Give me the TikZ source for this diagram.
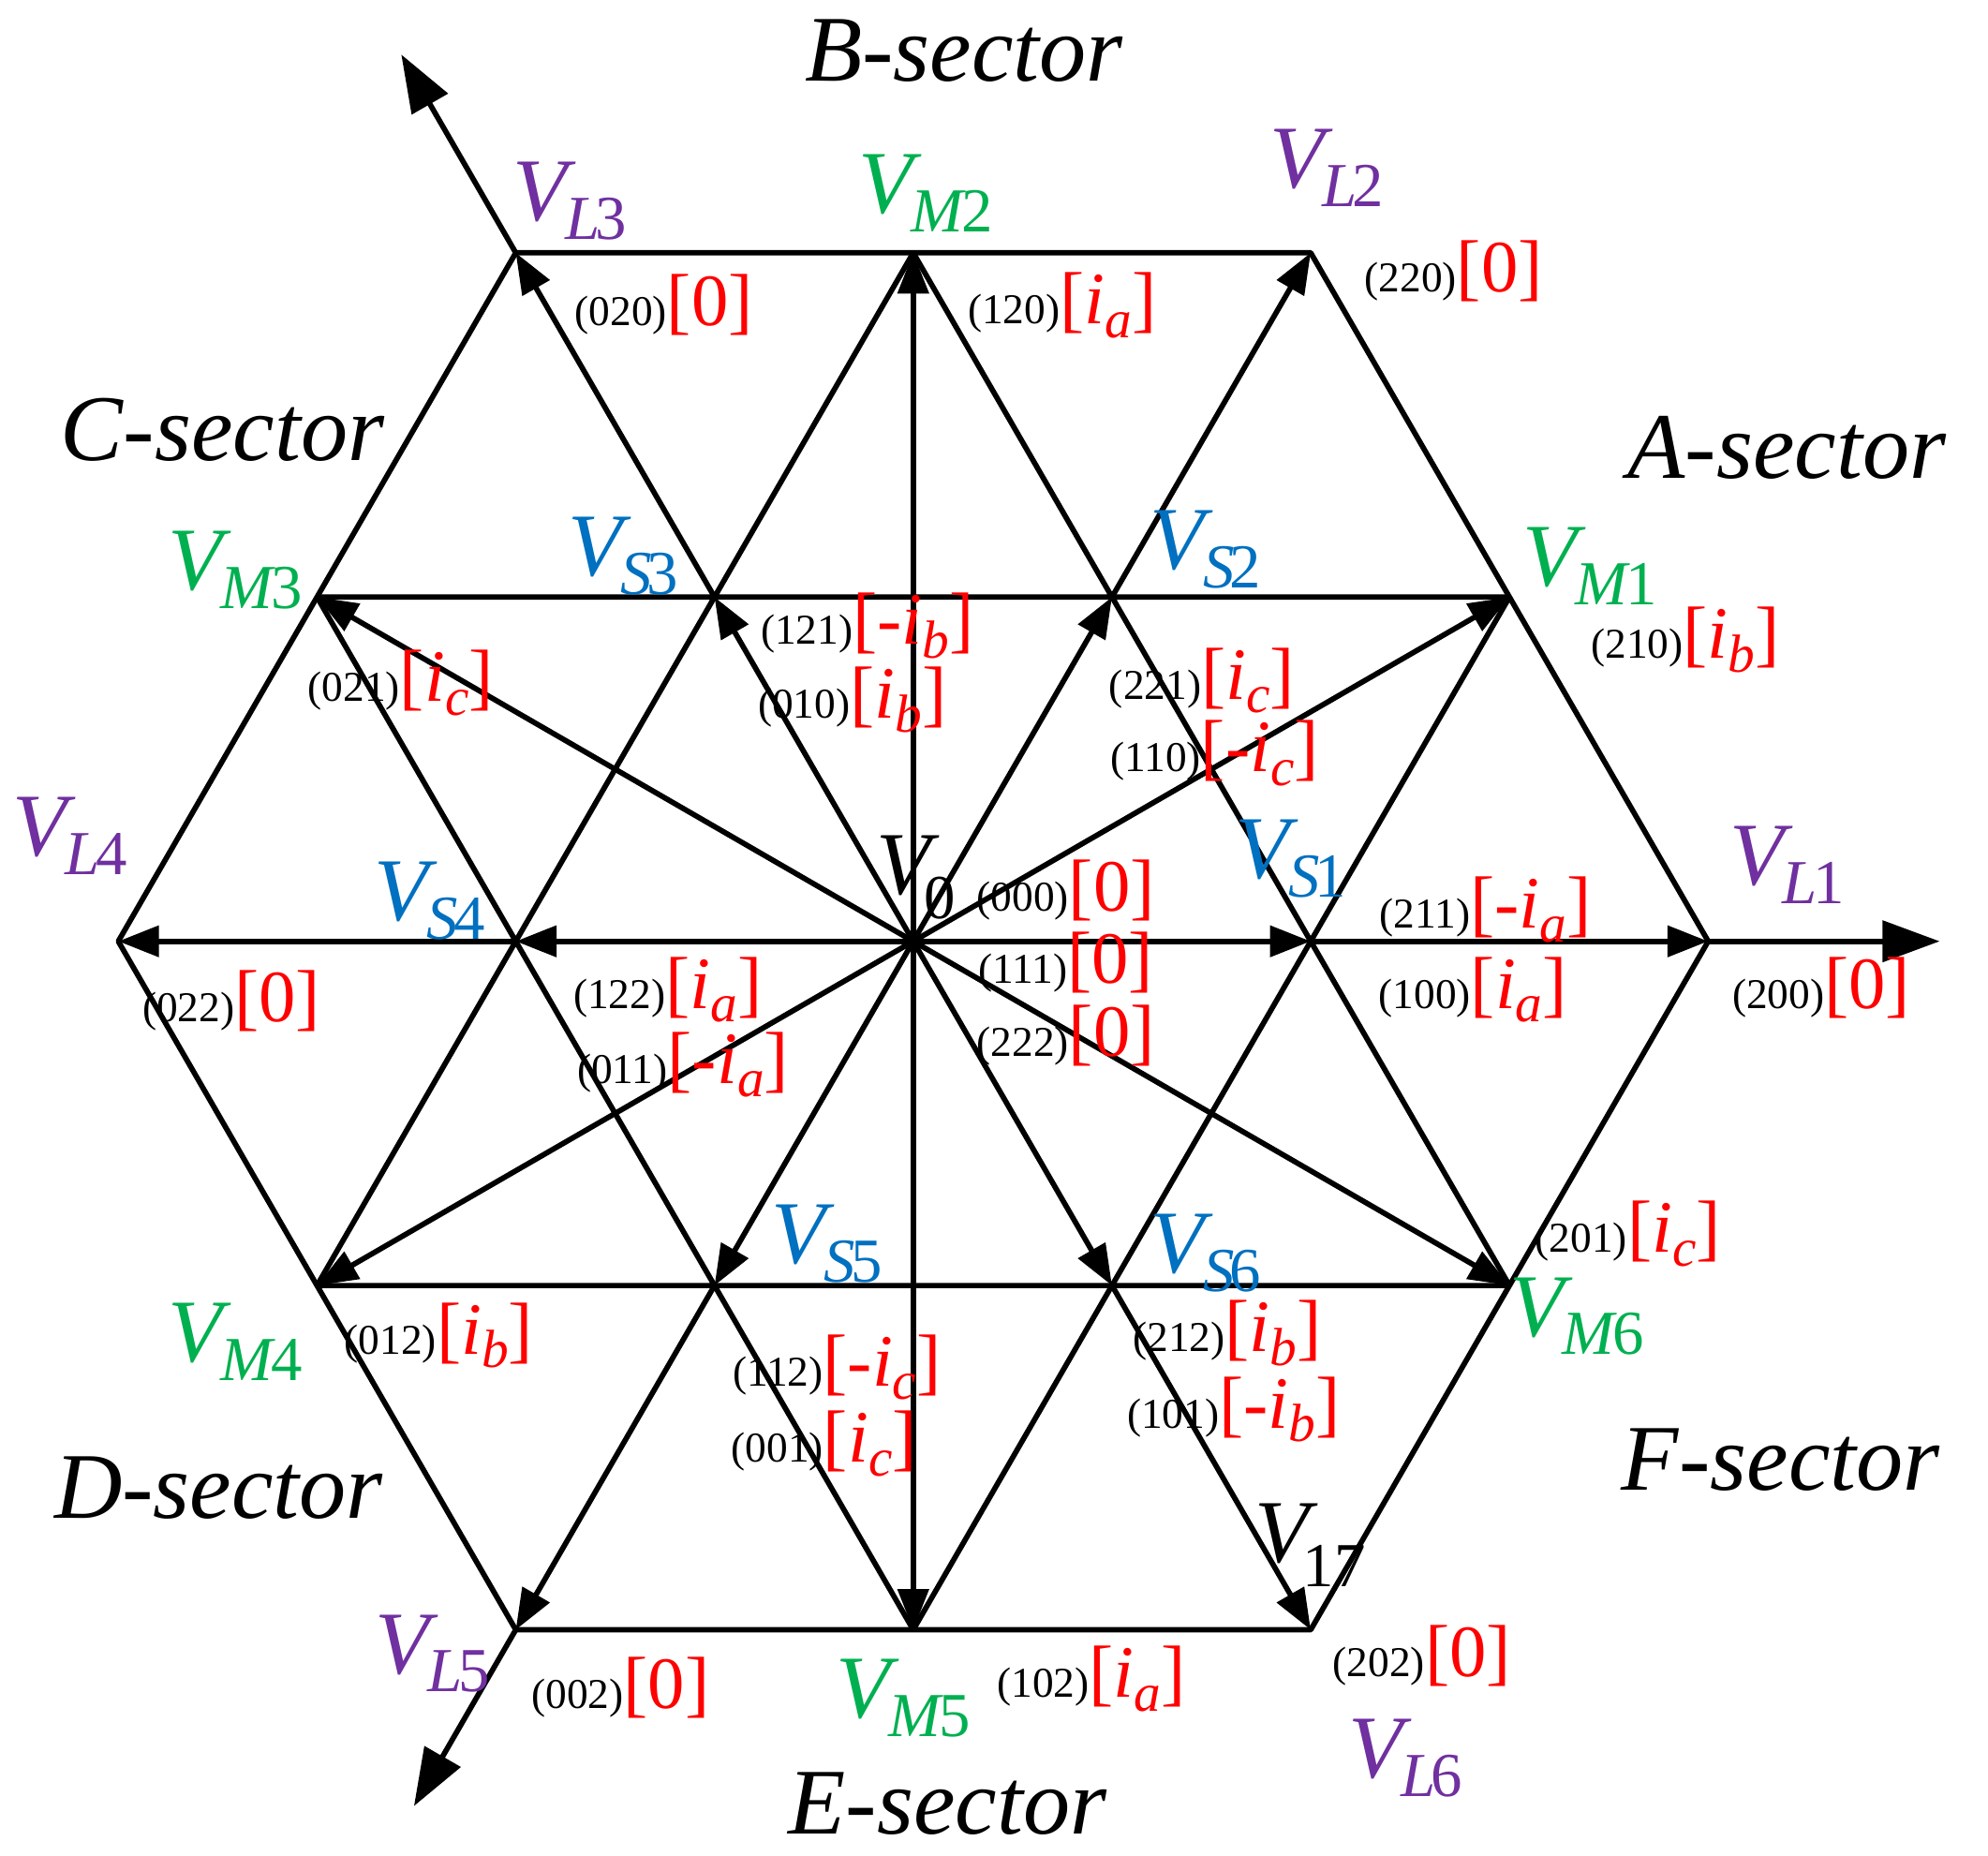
\documentclass[tikz,border=0pt]{standalone}
\usepackage{fontspec}
\setmainfont{Liberation Serif}
\usetikzlibrary{arrows.meta,calc}
\definecolor{cR}{RGB}{255,0,0}
\definecolor{cG}{RGB}{0,176,80}
\definecolor{cB}{RGB}{0,112,192}
\definecolor{cP}{RGB}{112,48,160}
\newcommand\vlab[2]{\fontsize{20}{21}\selectfont\textit{V}\kern-0.12em\raisebox{-0.45ex}{\fontsize{14}{15}\selectfont\textit{#2}}}
\newcommand\cd[2]{{\fontsize{9.5}{10}\selectfont(#1)}{\color{cR}\fontsize{16.5}{17}\selectfont[#2]}}
\newcommand\ii[1]{\textit{i}\raisebox{-0.4ex}{\fontsize{12}{13}\selectfont\textit{#1}}}
\begin{document}
\begin{tikzpicture}[x=0.01cm,y=-0.01cm,
  ln/.style={line width=1.2pt,line join=round},
  tip/.style={-{Triangle[length=0.32cm,width=0.24cm]}},
  bigtip/.style={-{Triangle[length=0.45cm,width=0.32cm]}},
  sect/.style={font=\fontsize{21}{22}\selectfont\itshape},
  lab/.style={inner sep=0pt}]
\useasboundingbox (0,0) rectangle (1563,1459);
\coordinate (O) at (718,740);
\foreach \k in {1,...,6}{
  \coordinate (L\k) at ($(O)+({-(\k-1)*60}:625)$);
  \coordinate (S\k) at ($(O)+({-(\k-1)*60}:312.5)$);
  \coordinate (M\k) at ($(O)+({-30-(\k-1)*60}:541.27)$);
}
\coordinate (X) at (1525,740);
\coordinate (A3) at ($(O)+(-120:805)$);
\coordinate (A5) at ($(O)+(120:785)$);
% hexagon
\draw[ln] (L1)--(L2)--(L3)--(L4)--(L5)--(L6)--cycle;
% lattice
\draw[ln] (M1)--(M3) (M4)--(M6) (M2)--(M4) (M2)--(M6) (M1)--(M5) (M3)--(M5);
% axes
\draw[ln,bigtip] (L1)--(X);
\draw[ln,bigtip] (L3)--(A3);
\draw[ln,bigtip] (L5)--(A5);
% radial vectors
\foreach \k in {1,...,6}{
  \draw[ln,tip] (O)--(S\k);
  \draw[ln,tip] (S\k)--(L\k);
  \draw[ln,tip] (O)--(M\k);
}
% sectors
\node[sect] at (758,40) {B-sector};
\node[sect] at (1405,352) {A-sector};
\node[sect] at (175,338) {C-sector};
\node[sect] at (172,1170) {D-sector};
\node[sect] at (745,1418) {E-sector};
\node[sect] at (1400,1148) {F-sector};
% V labels
\node[lab,cP] at (448,158) {\vlab{V}{L}\kern-0.05em\raisebox{-0.45ex}{\fontsize{14}{15}\selectfont 3}};
\node[lab,cP] at (1043,132) {\vlab{V}{L}\kern-0.05em\raisebox{-0.45ex}{\fontsize{14}{15}\selectfont 2}};
\node[lab,cP] at (55,657) {\vlab{V}{L}\kern-0.05em\raisebox{-0.45ex}{\fontsize{14}{15}\selectfont 4}};
\node[lab,cP] at (1405,680) {\vlab{V}{L}\kern-0.05em\raisebox{-0.45ex}{\fontsize{14}{15}\selectfont 1}};
\node[lab,cP] at (340,1300) {\vlab{V}{L}\kern-0.05em\raisebox{-0.45ex}{\fontsize{14}{15}\selectfont 5}};
\node[lab,cP] at (1105,1382) {\vlab{V}{L}\kern-0.05em\raisebox{-0.45ex}{\fontsize{14}{15}\selectfont 6}};
\node[lab,cG] at (728,152) {\vlab{V}{M}\kern-0.05em\raisebox{-0.45ex}{\fontsize{14}{15}\selectfont 2}};
\node[lab,cG] at (185,448) {\vlab{V}{M}\kern-0.05em\raisebox{-0.45ex}{\fontsize{14}{15}\selectfont 3}};
\node[lab,cG] at (1250,445) {\vlab{V}{M}\kern-0.05em\raisebox{-0.45ex}{\fontsize{14}{15}\selectfont 1}};
\node[lab,cG] at (185,1055) {\vlab{V}{M}\kern-0.05em\raisebox{-0.45ex}{\fontsize{14}{15}\selectfont 4}};
\node[lab,cG] at (1240,1035) {\vlab{V}{M}\kern-0.05em\raisebox{-0.45ex}{\fontsize{14}{15}\selectfont 6}};
\node[lab,cG] at (710,1335) {\vlab{V}{M}\kern-0.05em\raisebox{-0.45ex}{\fontsize{14}{15}\selectfont 5}};
\node[lab,cB] at (490,437) {\vlab{V}{S}\kern-0.05em\raisebox{-0.45ex}{\fontsize{14}{15}\selectfont 3}};
\node[lab,cB] at (948,432) {\vlab{V}{S}\kern-0.05em\raisebox{-0.45ex}{\fontsize{14}{15}\selectfont 2}};
\node[lab,cB] at (338,708) {\vlab{V}{S}\kern-0.05em\raisebox{-0.45ex}{\fontsize{14}{15}\selectfont 4}};
\node[lab,cB] at (1015,675) {\vlab{V}{S}\kern-0.05em\raisebox{-0.45ex}{\fontsize{14}{15}\selectfont 1}};
\node[lab,cB] at (650,978) {\vlab{V}{S}\kern-0.05em\raisebox{-0.45ex}{\fontsize{14}{15}\selectfont 5}};
\node[lab,cB] at (948,985) {\vlab{V}{S}\kern-0.05em\raisebox{-0.45ex}{\fontsize{14}{15}\selectfont 6}};
\node[lab] at (720,690) {\vlab{V}{}\kern-0.05em\raisebox{-0.6ex}{\fontsize{14}{15}\selectfont 0}};
\node[lab] at (1030,1215) {\vlab{V}{}\kern-0.05em\raisebox{-0.6ex}{\fontsize{14}{15}\selectfont 17}};
% codes
\node[lab] at (522,240) {\cd{020}{0}};
\node[lab] at (835,240) {\cd{120}{\ii{a}}};
\node[lab] at (1143,213) {\cd{220}{0}};
\node[lab] at (682,492) {\cd{121}{-\ii{b}}};
\node[lab] at (670,550) {\cd{010}{\ii{b}}};
\node[lab] at (315,537) {\cd{021}{\ii{c}}};
\node[lab] at (945,535) {\cd{221}{\ii{c}}};
\node[lab] at (955,592) {\cd{110}{-\ii{c}}};
\node[lab] at (1325,503) {\cd{210}{\ii{b}}};
\node[lab] at (838,700) {\cd{000}{0}};
\node[lab] at (838,757) {\cd{111}{0}};
\node[lab] at (838,814) {\cd{222}{0}};
\node[lab] at (1168,715) {\cd{211}{-\ii{a}}};
\node[lab] at (1158,778) {\cd{100}{\ii{a}}};
\node[lab] at (1432,777) {\cd{200}{0}};
\node[lab] at (182,787) {\cd{022}{0}};
\node[lab] at (525,778) {\cd{122}{\ii{a}}};
\node[lab] at (537,837) {\cd{011}{-\ii{a}}};
\node[lab] at (1280,970) {\cd{201}{\ii{c}}};
\node[lab] at (345,1050) {\cd{012}{\ii{b}}};
\node[lab] at (965,1048) {\cd{212}{\ii{b}}};
\node[lab] at (658,1075) {\cd{112}{-\ii{c}}};
\node[lab] at (970,1108) {\cd{101}{-\ii{b}}};
\node[lab] at (648,1135) {\cd{001}{\ii{c}}};
\node[lab] at (1118,1302) {\cd{202}{0}};
\node[lab] at (488,1327) {\cd{002}{0}};
\node[lab] at (858,1320) {\cd{102}{\ii{a}}};
\end{tikzpicture}
\end{document}
